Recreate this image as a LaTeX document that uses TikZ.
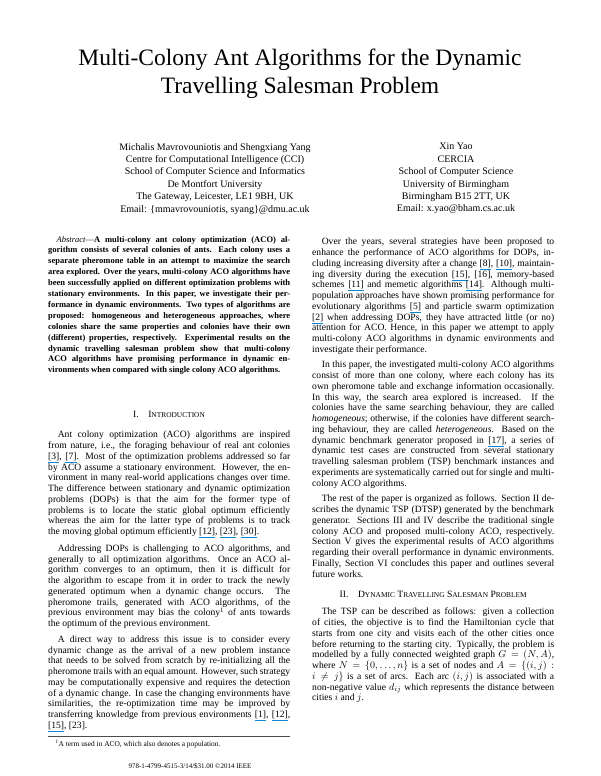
\documentclass[tikz,border=0pt]{standalone}
\usepackage{fontspec}
\setmainfont{Liberation Serif}
\usetikzlibrary{positioning}
\newcommand\cit[1]{{\color{cyan!70!blue}\underline{\color{black}#1}}}
\newcommand\fsc[1]{{\fontsize{7.4}{10}\selectfont #1}}
\newcommand\nl{\linebreak}
\begin{document}
\begin{tikzpicture}[x=1pt,y=1pt,node distance=6.5pt,
  col/.style={anchor=north west,inner sep=0pt,text width=242pt,align=justify,font=\fontsize{9.6}{10.75}\selectfont},
  hd/.style={anchor=center,inner sep=0pt,font=\fontsize{9.6}{10.9}\selectfont},
  au/.style={anchor=north,inner sep=0pt,align=center,font=\fontsize{10}{12.4}\selectfont}]
\useasboundingbox[fill=white] (0,0) rectangle (600,-776);
\node[anchor=north,inner sep=0pt,align=center,font=\fontsize{23.5}{27.5}\selectfont] (title) at (300,-49) {Multi-Colony Ant Algorithms for the Dynamic\\Travelling Salesman Problem};
\node[au] (a1) at (215,-143) {Michalis Mavrovouniotis and Shengxiang Yang\\Centre for Computational Intelligence (CCI)\\School of Computer Science and Informatics\\De Montfort University\\The Gateway, Leicester, LE1 9BH, UK\\Email: \{mmavrovouniotis, syang\}@dmu.ac.uk};
\node[au] (a2) at (456,-143) {Xin Yao\\CERCIA\\School of Computer Science\\University of Birmingham\\Birmingham B15 2TT, UK\\Email: x.yao@bham.cs.ac.uk};
\node[col,font=\fontsize{8.5}{10.9}\selectfont] (abs) at (48,-236) {\hspace*{1em}\textit{Abstract}---\textbf{A multi-colony ant colony optimization (ACO) al-\nl gorithm consists of several colonies of ants. Each colony uses a\nl separate pheromone table in an attempt to maximize the search\nl area explored. Over the years, multi-colony ACO algorithms have\nl been successfully applied on different optimization problems with\nl stationary environments. In this paper, we investigate their per-\nl formance in dynamic environments. Two types of algorithms are\nl proposed: homogeneous and heterogeneous approaches, where\nl colonies share the same properties and colonies have their own\nl (different) properties, respectively. Experimental results on the\nl dynamic travelling salesman problem show that multi-colony\nl ACO algorithms have promising performance in dynamic en-\nl vironments when compared with single colony ACO algorithms.}};
\node[hd] (s1) at (169,-414) {I.\quad I\fsc{NTRODUCTION}};
\node[col] (p1) at (48,-431) {\hspace*{1em}Ant colony optimization (ACO) algorithms are inspired\nl from nature, i.e., the foraging behaviour of real ant colonies\nl \cit{[3]}, \cit{[7]}. Most of the optimization problems addressed so far\nl by ACO assume a stationary environment. However, the en-\nl vironment in many real-world applications changes over time.\nl The difference between stationary and dynamic optimization\nl problems (DOPs) is that the aim for the former type of\nl problems is to locate the static global optimum efficiently\nl whereas the aim for the latter type of problems is to track\nl the moving global optimum efficiently \cit{[12]}, \cit{[23]}, \cit{[30]}.};
\node[col,below=of p1.south west,anchor=north west] (p2) {\hspace*{1em}Addressing DOPs is challenging to ACO algorithms, and\nl generally to all optimization algorithms. Once an ACO al-\nl gorithm converges to an optimum, then it is difficult for\nl the algorithm to escape from it in order to track the newly\nl generated optimum when a dynamic change occurs. The\nl pheromone trails, generated with ACO algorithms, of the\nl previous environment may bias the colony\textsuperscript{1} of ants towards\nl the optimum of the previous environment.};
\node[col,below=of p2.south west,anchor=north west] (p3) {\hspace*{1em}A direct way to address this issue is to consider every\nl dynamic change as the arrival of a new problem instance\nl that needs to be solved from scratch by re-initializing all the\nl pheromone trails with an equal amount. However, such strategy\nl may be computationally expensive and requires the detection\nl of a dynamic change. In case the changing environments have\nl similarities, the re-optimization time may be improved by\nl transferring knowledge from previous environments \cit{[1]}, \cit{[12]},\nl \cit{[15]}, [23].};
\coordinate (fa) at (48,-736); \coordinate (fb) at (290,-736);
\draw[line width=0.5pt,black!70] (fa) -- (fb);
\node[col,font=\fontsize{7.4}{9}\selectfont] (fn) at (48,-740) {\hspace*{1em}\textsuperscript{1}A term used in ACO, which also denotes a population.};
\node[hd,font=\fontsize{7}{8}\selectfont] (foot) at (190,-766) {978-1-4799-4515-3/14/\$31.00 \copyright2014 IEEE};
\node[col] (q1) at (312,-238) {\hspace*{1em}Over the years, several strategies have been proposed to\nl enhance the performance of ACO algorithms for DOPs, in-\nl cluding increasing diversity after a change \cit{[8]}, \cit{[10]}, maintain-\nl ing diversity during the execution \cit{[15]}, [16], memory-based\nl schemes \cit{[11]} and memetic algorithms \cit{[14]}. Although multi-\nl population approaches have shown promising performance for\nl evolutionary algorithms \cit{[5]} and particle swarm optimization\nl \cit{[2]} when addressing DOPs, they have attracted little (or no)\nl attention for ACO. Hence, in this paper we attempt to apply\nl multi-colony ACO algorithms in dynamic environments and\nl investigate their performance.};
\node[col,below=of q1.south west,anchor=north west] (q2) {\hspace*{1em}In this paper, the investigated multi-colony ACO algorithms\nl consist of more than one colony, where each colony has its\nl own pheromone table and exchange information occasionally.\nl In this way, the search area explored is increased. If the\nl colonies have the same searching behaviour, they are called\nl \textit{homogeneous}; otherwise, if the colonies have different search-\nl ing behaviour, they are called \textit{heterogeneous}. Based on the\nl dynamic benchmark generator proposed in \cit{[17]}, a series of\nl dynamic test cases are constructed from several stationary\nl travelling salesman problem (TSP) benchmark instances and\nl experiments are systematically carried out for single and multi-\nl colony ACO algorithms.};
\node[col,below=of q2.south west,anchor=north west] (q3) {\hspace*{1em}The rest of the paper is organized as follows. Section II de-\nl scribes the dynamic TSP (DTSP) generated by the benchmark\nl generator. Sections III and IV describe the traditional single\nl colony ACO and proposed multi-colony ACO, respectively.\nl Section V gives the experimental results of ACO algorithms\nl regarding their overall performance in dynamic environments.\nl Finally, Section VI concludes this paper and outlines several\nl future works.};
\node[hd,below=17pt of q3.south,anchor=center] (s2) {II.\quad D\fsc{YNAMIC} T\fsc{RAVELLING} S\fsc{ALESMAN} P\fsc{ROBLEM}};
\node[col,below=10pt of s2.south -| q3.west,anchor=north west] (q4) {\hspace*{1em}The TSP can be described as follows: given a collection\nl of cities, the objective is to find the Hamiltonian cycle that\nl starts from one city and visits each of the other cities once\nl before returning to the starting city. Typically, the problem is\nl modelled by a fully connected weighted graph $G=(N,A)$,\nl where $N=\{0,\ldots,n\}$ is a set of nodes and $A=\{(i,j):$\nl $i\neq j\}$ is a set of arcs. Each arc $(i,j)$ is associated with a\nl non-negative value $d_{ij}$ which represents the distance between\nl cities $i$ and $j$.};
\end{tikzpicture}
\end{document}
